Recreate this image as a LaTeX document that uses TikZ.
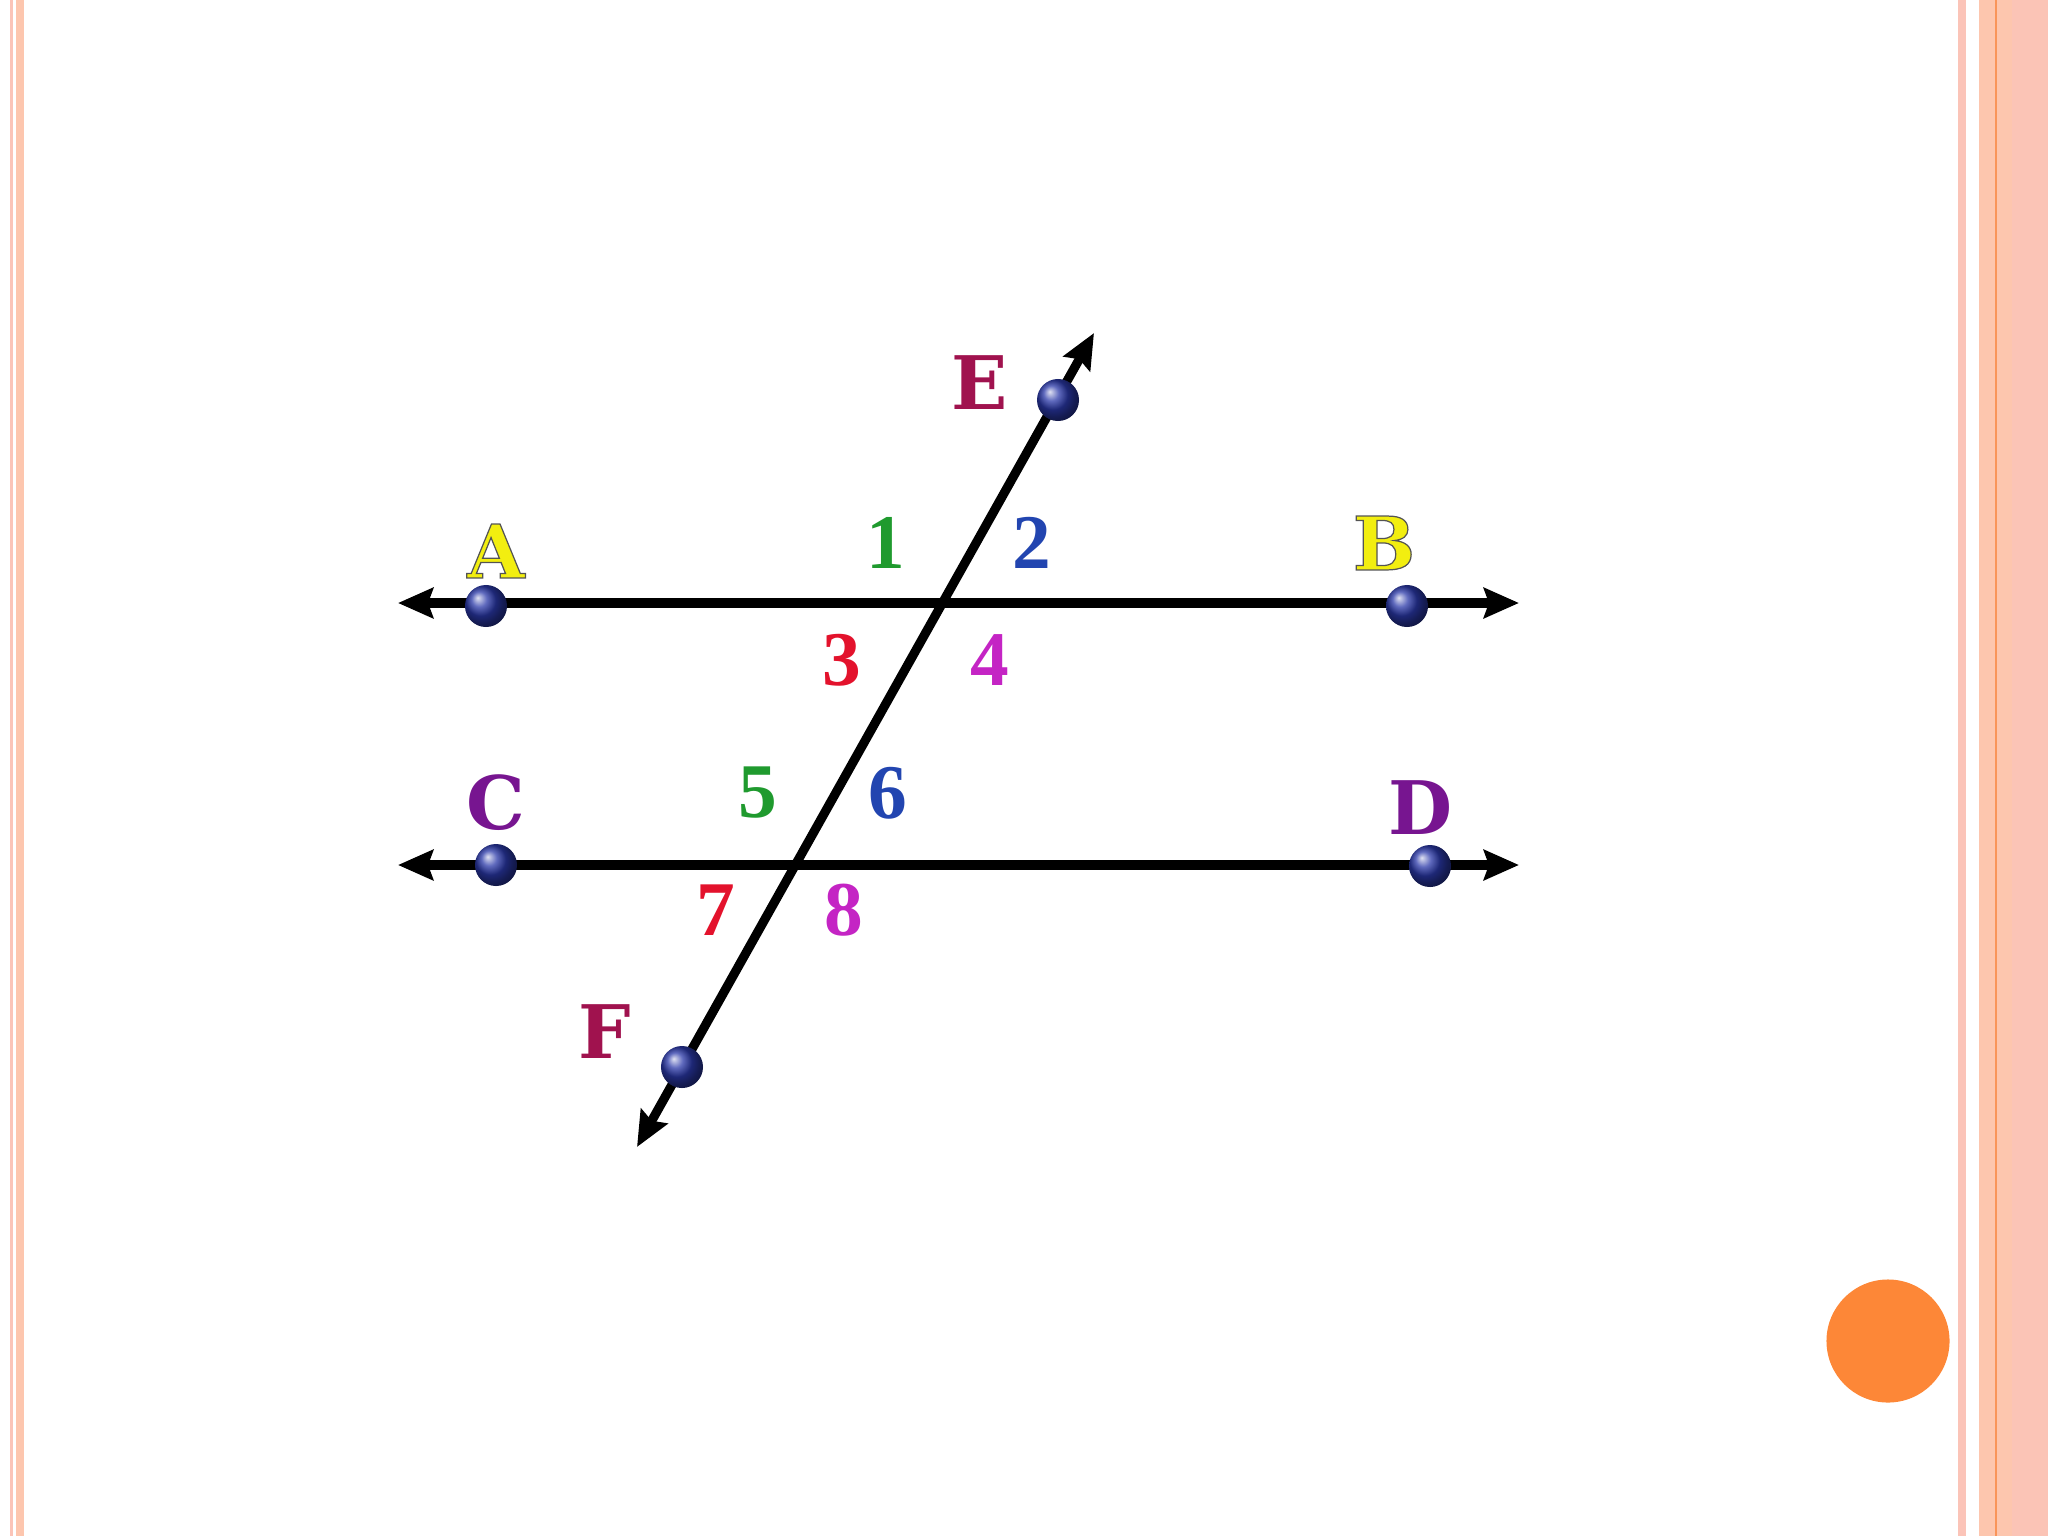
\documentclass[tikz,border=0pt]{standalone}
\usepackage{fontspec}
\setmainfont{Liberation Serif}
\newfontfamily\letterfont{DejaVu Serif}
\usetikzlibrary{arrows.meta}
\definecolor{bordpink}{HTML}{FBC4B8}
\definecolor{bordsalmon}{HTML}{FDC6AE}
\definecolor{bordorange}{HTML}{F9955A}
\definecolor{orangedot}{HTML}{FD8737}
\definecolor{ptblue}{HTML}{2A38A8}
\definecolor{cgreen}{HTML}{1F9A2E}
\definecolor{cblue}{HTML}{2245B0}
\definecolor{cred}{HTML}{E3122C}
\definecolor{cmag}{HTML}{C424C4}
\definecolor{lyellow}{HTML}{F2EE10}
\definecolor{lpurple}{HTML}{771590}
\definecolor{lcrimson}{HTML}{A0124E}
\newcommand\outlinedletter[1]{{\color{lyellow}\special{pdf:literal direct 2 Tr 0.35 w 0.33 0.33 0.33 RG}#1\special{pdf:literal direct 0 Tr}}}
\tikzset{
  geoline/.style={line width=2.6pt, {Stealth[length=0.35cm,width=0.30cm,inset=0.05cm]}-{Stealth[length=0.35cm,width=0.30cm,inset=0.05cm]}},
  ptdot/.style={circle, minimum size=0.42cm, inner sep=0pt, ball color=ptblue, shading=ball},
  numlabel/.style={font=\bfseries\fontsize{22}{22}\selectfont, inner sep=0pt},
  letlabel/.style={font=\letterfont\bfseries\fontsize{21}{21}\selectfont, inner sep=0pt}
}
\begin{document}
\begin{tikzpicture}[x=0.01cm,y=-0.01cm]
\useasboundingbox (0,0) rectangle (2048,1536);
% borders
\fill[bordpink] (10,0) rectangle (13,1536);
\fill[bordsalmon] (16,0) rectangle (24,1536);
\fill[bordpink] (1958,0) rectangle (1966,1536);
\fill[bordsalmon] (1979,0) rectangle (2048,1536);
\fill[bordorange] (1995,0) rectangle (1997,1536);
\fill[bordpink!80!bordsalmon] (2012,0) rectangle (2048,1536);
\node[circle, fill=orangedot, minimum size=1.23cm, inner sep=0pt] (od) at (1888,1341) {};
% line ends
\coordinate (ABl) at (398,603);
\coordinate (ABr) at (1519,603);
\coordinate (CDl) at (398,865);
\coordinate (CDr) at (1519,865);
\coordinate (EFt) at (1094,333);
\coordinate (EFb) at (637,1147);
\draw[geoline] (ABl) -- (ABr);
\draw[geoline] (CDl) -- (CDr);
\draw[geoline] (EFb) -- (EFt);
% points
\node[ptdot] (A) at (486,606) {};
\node[ptdot] (B) at (1407,606) {};
\node[ptdot] (C) at (496,865) {};
\node[ptdot] (D) at (1430,866) {};
\node[ptdot] (E) at (1058,400) {};
\node[ptdot] (F) at (682,1067) {};
% letters
\node[letlabel] (lA) at (496,551) {\outlinedletter{A}};
\node[letlabel] (lB) at (1384,543) {\outlinedletter{B}};
\node[letlabel, text=lpurple] (lC) at (496,803) {C};
\node[letlabel, text=lpurple] (lD) at (1421,808) {D};
\node[letlabel, text=lcrimson] (lE) at (980,383) {E};
\node[letlabel, text=lcrimson] (lF) at (605,1032) {F};
% angle numbers
\node[numlabel, text=cgreen] (n1) at (886,543) {1};
\node[numlabel, text=cblue] (n2) at (1032,543) {2};
\node[numlabel, text=cred] (n3) at (842,660) {3};
\node[numlabel, text=cmag] (n4) at (990,660) {4};
\node[numlabel, text=cgreen] (n5) at (758,793) {5};
\node[numlabel, text=cblue] (n6) at (888,793) {6};
\node[numlabel, text=cred] (n7) at (716,910) {7};
\node[numlabel, text=cmag] (n8) at (844,910) {8};
\end{tikzpicture}
\end{document}
